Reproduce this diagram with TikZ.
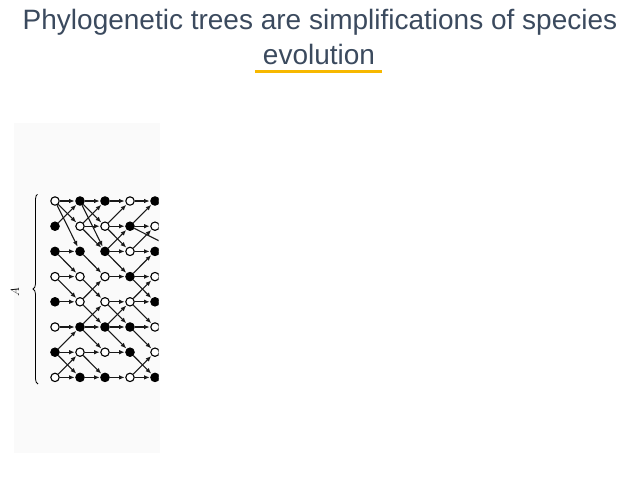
\documentclass[tikz,border=0pt]{standalone}
\usepackage{fontspec}
\setmainfont{Liberation Sans}
\usetikzlibrary{arrows.meta,decorations.pathreplacing}
\definecolor{titlegray}{HTML}{3B4A5E}
\definecolor{markyellow}{HTML}{F7B800}
\definecolor{panelgray}{HTML}{FAFAFA}
\def\colsep{25}
\def\rowsep{25.2}

\begin{document}
\begin{tikzpicture}[x=1pt,y=-1pt,shorten >=0.6pt,>={Latex[length=5.6pt,width=4.6pt]}]
    \tikzstyle{allele}=[circle,draw=black,line width=1.1pt,minimum size=8.4pt,inner sep=0pt]
    \tikzstyle{open allele}=[allele,fill=white]
    \tikzstyle{full allele}=[allele,fill=black]
    \tikzstyle{descent}=[->,draw=black!90,line width=1.1pt]
    \tikzstyle{title}=[text=titlegray,font=\fontsize{28}{32}\selectfont]

    \useasboundingbox (0,0) rectangle (638,493);

    % Title
    \node[title] (T1) at (320,22) {Phylogenetic trees are simplifications of species};
    \node[title] (T2) at (319,54) {evolution};
    \draw[markyellow,line width=3pt] (255,71) -- (383,71);

    % Panel with the scanned figure
    \fill[panelgray] (14,123) rectangle (160,453);

    \begin{scope}
    \clip (14,123) rectangle (158.5,453);
    % Draw the generations, one column each
    \foreach \c/\types in {1/{open,full,full,open,full,open,full,open},
                           2/{full,open,full,open,open,full,open,full},
                           3/{full,open,full,open,open,full,open,full},
                           4/{open,full,open,full,open,full,full,open},
                           5/{full,open,full,open,full,open,open,full}}
        \foreach \t [count=\r] in \types
            \node[\t\space allele] (N-\c-\r) at ({30+\colsep*\c},{175.8+\rowsep*\r}) {};
    \coordinate (N-6-3) at ({30+\colsep*6},{175.8+\rowsep*3});

    % Connect each generation with the next one
    \foreach \s/\d in {1/1,1/2,1/3,2/1,3/3,3/4,4/4,4/5,5/5,6/6,7/6,7/7,7/8,8/7,8/8}
        \path (N-1-\s) edge[descent] (N-2-\d);
    \foreach \s/\d in {1/1,1/2,1/3,2/1,2/2,2/3,3/4,4/5,5/4,5/6,6/5,6/6,6/7,7/7,7/8,8/8}
        \path (N-2-\s) edge[descent] (N-3-\d);
    \foreach \s/\d in {1/1,2/1,2/2,2/3,3/2,3/3,3/4,4/4,5/5,5/6,6/5,6/6,6/7,7/7,8/8}
        \path (N-3-\s) edge[descent] (N-4-\d);
    \foreach \s/\d in {1/1,2/1,2/2,3/2,3/3,4/3,4/4,4/5,5/4,5/5,5/6,6/6,6/7,7/8,8/7,8/8}
        \path (N-4-\s) edge[descent] (N-5-\d);
    \path (N-4-2) edge[descent] (N-6-3);
    \end{scope}

    % Brace over the sample
    \draw[decorate,decoration={brace,amplitude=5pt},line width=0.8pt] (38,384) -- (38,194);
    \node[rotate=90,font=\fontsize{12}{12}\selectfont] (A) at (15,292) {$A$};
\end{tikzpicture}
\end{document}
